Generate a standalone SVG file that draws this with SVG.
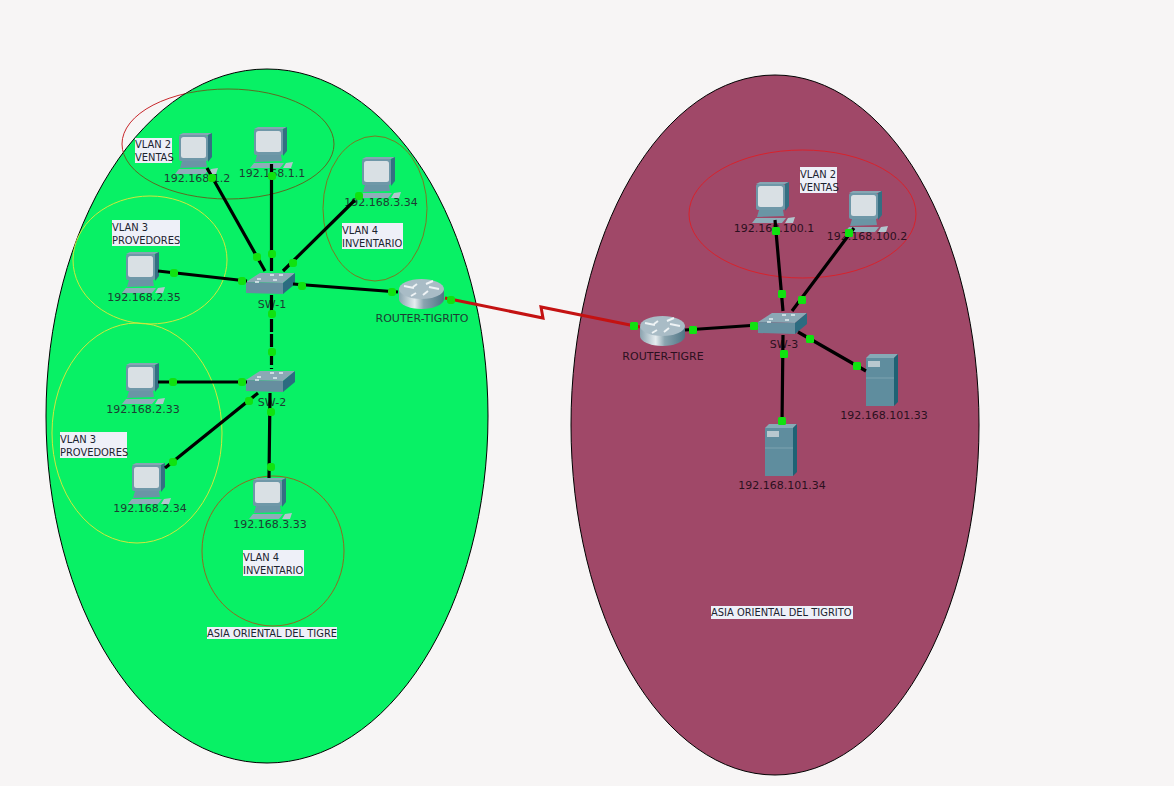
<svg xmlns="http://www.w3.org/2000/svg" width="1174" height="786" viewBox="0 0 1174 786">
<style>
.nl{font-family:"DejaVu Sans",sans-serif;font-size:11px;text-anchor:middle;fill:#1d3d33}
.mr{fill:#2c1020}
.tag{font-family:"DejaVu Sans",sans-serif;font-stretch:condensed;font-size:11px;fill:#1c2430}
.box{fill:#eef0f8}
.link{stroke:#000;stroke-width:3.2;fill:none}
.dot{fill:#10e210}
.v{fill:none;stroke-width:1}
</style>
<defs>
<clipPath id="gc"><ellipse cx="267" cy="416" rx="221" ry="347"/></clipPath>
<linearGradient id="rg" x1="0" x2="1" y1="0" y2="0">
<stop offset="0" stop-color="#8aa3af"/><stop offset=".35" stop-color="#e6edf0"/><stop offset=".55" stop-color="#8aa4af"/><stop offset="1" stop-color="#4f7585"/>
</linearGradient>
<g id="pc">
<polygon points="-4,41 0,36 30,36 26,41" fill="#8fadb9"/>
<polygon points="3,28 27,28 28,34 1,35" fill="#6a95a5"/>
<polygon points="0,2 4,0 33,0 29,2" fill="#86a6b3"/>
<polygon points="29,2 33,0 33,24 29,29" fill="#346f82"/>
<rect x="0" y="2" width="29" height="26" rx="2" fill="#6f98a8"/>
<rect x="2" y="4" width="25" height="21" rx="2.500" fill="#d9e0e4"/>
<polygon points="32,36 39,35 37,41 29,41" fill="#b3c6ce"/>
</g>
<g id="sw">
<polygon points="0,11 14,2 49,2 37,12" fill="#8ba8b5"/>
<polygon points="0,11 37,12 37,23 0,22" fill="#668e9f"/>
<polygon points="37,12 49,2 49,13 37,23" fill="#2c6b80"/>
<path d="M11 8h4M24 4h4M9 11h4M33 4h4M27 9h4" stroke="#e4eef2" stroke-width="1.400"/>
</g>
<g id="rt">
<path d="M0 10V20A22.500 10 0 0 0 45 20V10Z" fill="url(#rg)"/>
<ellipse cx="22.500" cy="10" rx="22.500" ry="10" fill="#a9bcc6"/>
<path d="M5 7l10 2M18 5l-4 3M27 5l7-3M30 8l10 2M17 14l-5 3M29 12l-5 4" stroke="#eef3f5" stroke-width="2" fill="none"/>
</g>
<g id="srv">
<polygon points="0,4 4,0 32,0 28,4" fill="#86aab6"/>
<rect x="0" y="4" width="28" height="48" fill="#5f8d9e"/>
<polygon points="28,4 32,0 32,48 28,52" fill="#1f6274"/>
<rect x="2" y="7" width="12" height="6" fill="#b8c8cf"/>
<path d="M0 24H28" stroke="#7ea3b0"/>
</g>
</defs>
<rect width="1174" height="786" fill="#f7f5f5"/>
<g id="regions">
<ellipse cx="228" cy="144" rx="106" ry="55" class="v" stroke="#c8282c"/>
<ellipse cx="267" cy="416" rx="221" ry="347" fill="#08f165" stroke="#000"/>
<ellipse cx="775" cy="425" rx="204" ry="350" fill="#a04868" stroke="#000"/>
<g clip-path="url(#gc)"><ellipse cx="228" cy="144" rx="106" ry="55" class="v" stroke="#5d6a22"/></g>
<ellipse cx="375" cy="208.500" rx="52" ry="72.500" class="v" stroke="#7a7a22"/>
<ellipse cx="150" cy="260" rx="77" ry="64" class="v" stroke="#cfe83c"/>
<ellipse cx="137" cy="433" rx="85" ry="110" class="v" stroke="#cfe83c"/>
<ellipse cx="273" cy="551" rx="71" ry="75" class="v" stroke="#8f6a20"/>
<ellipse cx="802.500" cy="214" rx="113.500" ry="64" class="v" stroke="#d8222c"/>
</g>
<g id="tags">
<rect class="box" x="135" y="138" width="37" height="25"/><text class="tag" x="135" y="148">VLAN 2</text><text class="tag" x="135" y="161">VENTAS</text>
<rect class="box" x="112" y="220" width="68" height="26"/><text class="tag" x="112" y="231">VLAN 3</text><text class="tag" x="112" y="244">PROVEDORES</text>
<rect class="box" x="342" y="223" width="61" height="26"/><text class="tag" x="342" y="234">VLAN 4</text><text class="tag" x="342" y="247">INVENTARIO</text>
<rect class="box" x="60" y="432" width="67" height="26"/><text class="tag" x="60" y="443">VLAN 3</text><text class="tag" x="60" y="456">PROVEDORES</text>
<rect class="box" x="243" y="550" width="61" height="26"/><text class="tag" x="243" y="561">VLAN 4</text><text class="tag" x="243" y="574">INVENTARIO</text>
<rect class="box" x="207" y="627" width="130" height="12"/><text class="tag" x="207" y="637">ASIA ORIENTAL DEL TIGRE</text>
<rect class="box" x="711" y="606" width="142" height="13"/><text class="tag" x="711" y="616">ASIA ORIENTAL DEL TIGRITO</text>
<rect class="box" x="800" y="167" width="37" height="26"/><text class="tag" x="800" y="178">VLAN 2</text><text class="tag" x="800" y="191">VENTAS</text>
</g>
<g id="pc-1-2"><use href="#pc" x="179" y="133"/><text class="nl" x="197" y="182">192.168.1.2</text></g>
<g id="pc-1-1"><use href="#pc" x="254" y="127"/><text class="nl" x="272" y="177">192.168.1.1</text></g>
<g id="pc-3-34"><use href="#pc" x="362" y="157"/><text class="nl" x="381" y="206">192.168.3.34</text></g>
<g id="pc-2-35"><use href="#pc" x="126" y="252"/><text class="nl" x="144" y="301">192.168.2.35</text></g>
<g id="pc-2-33"><use href="#pc" x="126" y="363"/><text class="nl" x="143" y="413">192.168.2.33</text></g>
<g id="pc-2-34"><use href="#pc" x="132" y="463"/><text class="nl" x="150" y="512">192.168.2.34</text></g>
<g id="pc-3-33"><use href="#pc" x="253" y="478"/><text class="nl" x="270" y="528">192.168.3.33</text></g>
<g id="pc-100-1"><use href="#pc" x="756" y="182"/><text class="nl mr" x="774" y="232">192.168.100.1</text></g>
<g id="pc-100-2"><use href="#pc" x="849" y="191"/><text class="nl mr" x="867" y="240">192.168.100.2</text></g>
<g id="sw-1"><use href="#sw" x="246" y="271"/><text class="nl" x="272" y="308">SW-1</text></g>
<g id="sw-2"><use href="#sw" x="246" y="369"/><text class="nl" x="272" y="406">SW-2</text></g>
<g id="sw-3"><use href="#sw" x="758" y="311"/><text class="nl mr" x="784" y="348">SW-3</text></g>
<g id="router-tigrito"><use href="#rt" x="399" y="279"/><text class="nl" x="422" y="322">ROUTER-TIGRITO</text></g>
<g id="router-tigre"><use href="#rt" x="640" y="316"/><text class="nl mr" x="663" y="360">ROUTER-TIGRE</text></g>
<g id="srv-33"><use href="#srv" x="866" y="354"/><text class="nl mr" x="884" y="419">192.168.101.33</text></g>
<g id="srv-34"><use href="#srv" x="765" y="424"/><text class="nl mr" x="782" y="489">192.168.101.34</text></g>
<g id="connectors">
<path class="link" d="M207 168L265 271M271.500 164V271M355 200L283 271M158 271L247 281M293 284L398 292"/>
<path class="link" d="M271.500 295V316M271.500 319V332M271.500 334V347M271.500 356V365M271.500 368V369"/>
<path class="link" d="M158 382H247M258 393L165 468M270 393L269 478"/>
<path class="link" d="M775 220L783 311M854 228L792 311M685 330L758 325M798 332L866 371M783 335L782 425"/>
<path d="M445 298L543 318L541 307L640 327" fill="none" stroke="#c41212" stroke-width="3"/>
<g class="dot">
<rect x="208" y="174" width="8" height="8" rx="3"/><rect x="268" y="172" width="8" height="8" rx="3"/><rect x="355" y="192" width="8" height="8" rx="3"/><rect x="170" y="269" width="8" height="8" rx="3"/><rect x="253" y="253" width="8" height="8" rx="3"/><rect x="268" y="250" width="8" height="8" rx="3"/><rect x="289" y="259" width="8" height="8" rx="3"/><rect x="238" y="277" width="8" height="8" rx="3"/><rect x="298" y="282" width="8" height="8" rx="3"/><rect x="388" y="288" width="8" height="8" rx="3"/><rect x="447" y="296" width="8" height="8" rx="3"/><rect x="268" y="310" width="8" height="8" rx="3"/>
<rect x="268" y="348" width="8" height="8" rx="3"/><rect x="169" y="378" width="8" height="8" rx="3"/><rect x="238" y="378" width="8" height="8" rx="3"/><rect x="245" y="397" width="8" height="8" rx="3"/><rect x="267" y="408" width="8" height="8" rx="3"/><rect x="169" y="458" width="8" height="8" rx="3"/><rect x="267" y="463" width="8" height="8" rx="3"/>
<rect x="630" y="322" width="8" height="8" rx="1.500"/><rect x="689" y="326" width="8" height="8" rx="1.500"/><rect x="750" y="322" width="8" height="8" rx="1.500"/><rect x="772" y="227" width="8" height="8" rx="1.500"/><rect x="845" y="229" width="8" height="8" rx="1.500"/><rect x="778" y="290" width="8" height="8" rx="1.500"/><rect x="798" y="296" width="8" height="8" rx="1.500"/><rect x="806" y="335" width="8" height="8" rx="1.500"/><rect x="780" y="350" width="8" height="8" rx="1.500"/><rect x="853" y="362" width="8" height="8" rx="1.500"/><rect x="778" y="417" width="8" height="8" rx="1.500"/>
</g>
</g>
</svg>
